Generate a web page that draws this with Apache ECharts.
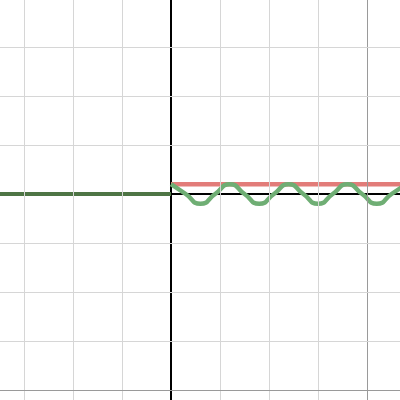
<!DOCTYPE html>
<html><head><meta charset="utf-8">
<script src="https://cdn.jsdelivr.net/npm/echarts@6/dist/echarts.min.js"></script>
<style>html,body{margin:0;padding:0;background:#fff}#c{width:400px;height:400px}</style>
</head><body><div id="c"></div>
<script>
// left line y=0 for x<0
const leftLine = [[-4,0],[0,0]];
// red line y=0.2 for x>0
const redLine = [[0,0.2],[5,0.2]];
// green wave read-off points (x, y)
const waveX = [0,0.3,0.6,0.9,1.2,1.5,1.8,2.1,2.4,2.7,3.0,3.3,3.6,3.9,4.2,4.5,4.8];
const waveY = [0.2,0,-0.2,0,0.2,0,-0.2,0,0.2,0,-0.2,0,0.2,0,-0.2,0,0.2];
const wave = waveX.map((x,i)=>[x,waveY[i]]);
const gridXs = [-3,-2,-1,1,2,3,4];
const gridYs = [-4,-3,-2,-1,1,2,3];
const gl = (v)=>({lineStyle:{color: (v%4===0)?'#9a9a9a':'#d6d6d6',width:1,type:'solid'}});
const chart = echarts.init(document.getElementById('c'));
const ax = (min,max)=>({type:'value',min,max,
  axisLine:{onZero:true,lineStyle:{color:'#000',width:2}},
  axisTick:{show:false},axisLabel:{show:false},splitLine:{show:false}});
chart.setOption({
  animation:false,
  grid:{left:0,right:0,top:0,bottom:0},
  xAxis:ax(-3.49,4.673),
  yAxis:ax(-4.204,3.959),
  series:[
    {type:'line',data:[],silent:true,markLine:{silent:true,symbol:'none',label:{show:false},
      data:[...gridXs.map(v=>Object.assign({xAxis:v},gl(v))),...gridYs.map(v=>Object.assign({yAxis:v},gl(v)))]}},
    {type:'line',data:redLine,showSymbol:false,lineStyle:{color:'#e27c79',width:4.5}},
    {type:'line',data:wave,smooth:0.6,showSymbol:false,lineStyle:{color:'#6fae74',width:4.5}},
    {type:'line',data:leftLine,showSymbol:false,lineStyle:{color:'#4e7545',width:4}}
  ]
});
</script></body></html>
